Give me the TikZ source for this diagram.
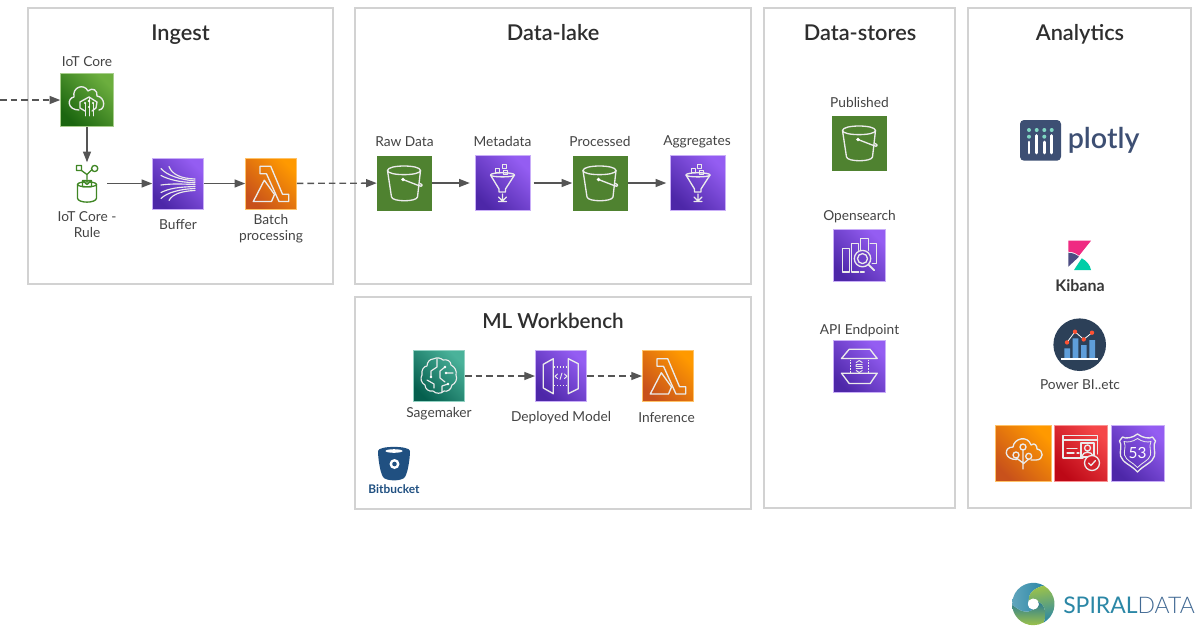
\documentclass[tikz,border=0pt]{standalone}
\usepackage{fontspec}
\setmainfont{Lato}
\newfontfamily\titlefont{Lato Semibold}
\newfontfamily\lightfont{Lato Light}
\usetikzlibrary{arrows.meta}
\definecolor{txt}{HTML}{444444}
\definecolor{flowc}{HTML}{555555}
\definecolor{panelc}{HTML}{D2D2D2}
\definecolor{bucketg}{HTML}{4F8230}
\definecolor{grnL}{HTML}{6CAE3E}\definecolor{grnD}{HTML}{1B660F}
\definecolor{purL}{HTML}{945DF2}\definecolor{purD}{HTML}{4D27A8}
\definecolor{orgL}{HTML}{FF9900}\definecolor{orgD}{HTML}{C8511B}
\definecolor{redL}{HTML}{F54749}\definecolor{redD}{HTML}{BD0816}
\definecolor{teaL}{HTML}{4AB29A}\definecolor{teaD}{HTML}{055F4E}
\definecolor{rulec}{HTML}{3F8624}
\definecolor{plotc}{HTML}{3D4F73}
\definecolor{plotd}{HTML}{7FD6C2}
\definecolor{bitc}{HTML}{205081}
\definecolor{pbid}{HTML}{2C4058}
\definecolor{spT}{HTML}{2B87A6}
\definecolor{spG}{HTML}{9CC24A}
\tikzset{
  panel/.style={draw=panelc,line width=1.1pt,fill=white},
  paneltitle/.style={font=\titlefont\fontsize{16.3}{18}\selectfont,text=black!82,inner sep=0pt,text height=12pt,text depth=1.5pt},
  lab/.style={font=\fontsize{10.3}{12}\selectfont,text=txt,inner sep=0pt,align=center,yshift=-.3pt},
  flow/.style={draw=flowc,line width=1pt,-{Triangle[length=8pt,width=6pt,fill=flowc]}},
  dflow/.style={flow,dash pattern=on 5pt off 3pt},
  icon/.style={inner sep=0pt,minimum size=#1*0.75pt},
  igrn/.style={icon=#1,top color=grnL,bottom color=grnD,shading angle=-45,draw=grnL!60!white,line width=.4pt},
  ipur/.style={icon=#1,top color=purL,bottom color=purD,shading angle=-45,draw=purL!50!white,line width=.4pt},
  iorg/.style={icon=#1,top color=orgL,bottom color=orgD,shading angle=-45,draw=orgL!60!white,line width=.4pt},
  ired/.style={icon=#1,top color=redL,bottom color=redD,shading angle=-45,draw=redL!60!white,line width=.4pt},
  itea/.style={icon=#1,top color=teaL,bottom color=teaD,shading angle=-45,draw=teaL!60!white,line width=.4pt},
  ibuc/.style={inner sep=0pt,minimum size=#1*0.75pt,fill=bucketg},
  gl/.style={draw=white!92!black,line width=1pt,line join=round,line cap=round},
  gldot/.style={gl,dash pattern=on 1pt off 1.2pt,line cap=butt},
}
\newcommand{\gBucket}[1]{\begin{scope}[shift={(#1.center)},gl]
  \draw (-17,-12.5) .. controls (-17,-18.5) and (16,-18.5) .. (16,-12.5) .. controls (16,-7) and (-17,-7) .. (-17,-12.5);
  \draw (-17,-12.5) -- (-13,14) .. controls (-12,19) and (12,19) .. (13,14) -- (16,-12.5);
  \draw (-1.5,-3.5) -- (14,2.5);
  \fill[white] (-1.5,-3.5) circle (1.8);
  \draw (14,2.5) .. controls (18,4.5) and (19,1.5) .. (15.5,0.5);
\end{scope}}
\newcommand{\gFunnel}[1]{\begin{scope}[shift={(#1.center)},gl]
  \draw (-12,-8) .. controls (-12,-11) and (12,-11) .. (12,-8) .. controls (12,-5.5) and (-12,-5.5) .. (-12,-8);
  \draw (-12,-8) -- (-3.5,6) -- (-3.5,9) -- (3,9) -- (3,6) -- (12,-8);
  \draw (0,11) -- (0,17) (-4,14) -- (0,18) -- (4,14) (-4,18.5) -- (4,18.5);
  \draw[line width=.7pt] (-7,-15) rectangle (-3,-11) (-.5,-19) rectangle (3.5,-15) (1,-12.5) rectangle (5,-8.5);
\end{scope}}
\newcommand{\gLambda}[1]{\begin{scope}[shift={(#1.center)},gl]
  \draw (-11,-17.3) -- (-.3,-17.3) -- (11.5,10.7) -- (17.7,10.7) -- (17.7,18) -- (8,18) -- (-4.5,-9.7) -- (-11,-9.7) -- cycle;
  \draw (-6.7,-3.3) -- (-17.7,18) -- (.5,18) -- (3.5,11) -- cycle;
\end{scope}}
\newcommand{\gBlade}[4]{\begin{scope}[rotate=#1]
  \shade[left color=#2,right color=#3,shading angle=#4] (90:5.5) .. controls (120:11) and (150:16) .. (180:21.2) arc[start angle=180,end angle=60,radius=21.2] .. controls (30:16) and (0:11) .. (-30:5.5) arc[start angle=-30,end angle=90,radius=5.5] -- cycle;
\end{scope}}
\begin{document}
\begin{tikzpicture}[x=0.75pt,y=-0.75pt]
\fill[white] (0,0) rectangle (1200,633);
\useasboundingbox (0,0) rectangle (1200,633);

% panels
\node[panel,minimum width=305*0.75pt,minimum height=276*0.75pt,inner sep=0pt] (pingest) at (180.5,146) {};
\node[panel,minimum width=396*0.75pt,minimum height=276*0.75pt,inner sep=0pt] (plake) at (553,146) {};
\node[panel,minimum width=396*0.75pt,minimum height=212*0.75pt,inner sep=0pt] (pml) at (553,403) {};
\node[panel,minimum width=191*0.75pt,minimum height=500*0.75pt,inner sep=0pt] (pstores) at (859.5,258) {};
\node[panel,minimum width=223*0.75pt,minimum height=500*0.75pt,inner sep=0pt] (pana) at (1079.5,258) {};
\node[paneltitle] (t1) at (180.5,33) {Ingest};
\node[paneltitle] (t2) at (553,33) {Data-lake};
\node[paneltitle,font=\titlefont\fontsize{15.5}{18}\selectfont] (t3) at (553,321) {ML Workbench};
\node[paneltitle] (t4) at (860,33) {Data-stores};
\node[paneltitle] (t5) at (1080,33) {Analytics};

% Ingest
\coordinate (src) at (0,100);
\node[igrn=53] (iot) at (87,100) {};
\node[inner sep=0pt,minimum width=40*0.75pt,minimum height=42*0.75pt] (rule) at (87,183.5) {};
\node[ipur=51] (buffer) at (178,183.5) {};
\node[iorg=51] (batch) at (271,183.5) {};
\node[lab] (liot) at (87,61) {IoT Core};
\node[lab] (lrule) at (87,224) {IoT Core -\\Rule};
\node[lab] (lbuf) at (178,224) {Buffer};
\node[lab] (lbatch) at (271,228) {Batch\\processing};

% iot glyph
\begin{scope}[shift={(iot.center)},gl]
  \draw (-8,10) .. controls (-20,10) and (-20,-2) .. (-13,-3) .. controls (-15,-13) and (-3,-17) .. (1,-9) .. controls (5,-13) and (11,-10) .. (10,-4) .. controls (18,-3) and (19,9) .. (12,10);
  \draw (2,-3) -- (10,2) -- (9,8) -- (5,11) (2,-3) -- (-7,2) -- (-7,8) -- (-2,11);
  \draw[line width=.7pt] (2,-3) -- (2,16) (-2,3) -- (-2,16) (6,3) -- (6,16);
  \fill[white] (2,1) circle (1.4) (-2,3) circle (1.2) (6,3) circle (1.2) (2,7) circle (1.2);
\end{scope}
% rule glyph
\begin{scope}[shift={(rule.center)},gl,draw=rulec]
  \draw (-9.5,1) -- (-9.5,14.5) .. controls (-9.5,20) and (9.5,20) .. (9.5,14.5) -- (9.5,1);
  \draw (-9.5,1) .. controls (-9.5,-2.5) and (9.5,-2.5) .. (9.5,1) .. controls (9.5,4) and (-9.5,4) .. (-9.5,1);
  \draw (-4.5,-3) rectangle (4.5,3.2) (-4.5,-3) -- (0,1) -- (4.5,-3);
  \draw (-10.5,-18) rectangle (-5.5,-13) (0,-4) -- (0,-9) -- (-5.5,-13) (0,-9) -- (5,-14);
  \draw (7.7,-15) circle (3.1);
\end{scope}
% buffer glyph
\begin{scope}[shift={(buffer.center)},gl,line width=.85pt]
  \draw (-9,-17) .. controls (-6,-9) and (3,-5) .. (17,-4.5);
  \draw (-17,-15) .. controls (-11,-8) and (2,-4) .. (17,-2.5);
  \draw (-17,-8) .. controls (-9,-4) and (0,-1.5) .. (17,-.7);
  \draw (-17,1.5) .. controls (-6,0) and (4,.5) .. (17,1);
  \draw (-17,9) .. controls (-9,5) and (0,3.5) .. (17,3);
  \draw (-17,15) .. controls (-11,9) and (2,5.5) .. (17,5);
  \draw (-9,17) .. controls (-6,11) and (3,7.5) .. (17,7);
\end{scope}
\gLambda{batch}

% Data-lake
\node[ibuc=55] (raw) at (404.5,183) {};
\node[ipur=55] (meta) at (502.5,183) {};
\node[ibuc=55] (proc) at (600,183) {};
\node[ipur=55] (aggr) at (698,183) {};
\gBucket{raw}\gBucket{proc}\gFunnel{meta}\gFunnel{aggr}
\node[lab] (lraw) at (404.5,141) {Raw Data};
\node[lab] (lmeta) at (502.5,141) {Metadata};
\node[lab] (lproc) at (600,141) {Processed};
\node[lab] (laggr) at (697,141) {Aggregates};

% ML
\node[itea=51.5] (sage) at (439,376) {};
\node[ipur=51.5] (model) at (561,376) {};
\node[iorg=51.5] (infer) at (668,376) {};
\node[lab] (lsage) at (439,413) {Sagemaker};
\node[lab] (lmodel) at (561,417) {Deployed Model};
\node[lab] (linfer) at (666.5,417) {Inference};
\gLambda{infer}
\begin{scope}[shift={(sage.center)},gl,line width=.85pt]
  \draw (-6,-17) .. controls (-2,-19) and (2,-18) .. (4,-16) .. controls (8,-17) and (12,-15) .. (12,-11) .. controls (16,-9) and (18,-5) .. (17,-1) .. controls (19,3) and (16,8) .. (13,9) .. controls (12,14) and (8,16) .. (5,15) .. controls (2,18) and (-3,18) .. (-6,15) .. controls (-10,16) and (-14,13) .. (-14,9) .. controls (-18,7) and (-19,2) .. (-17,-1) .. controls (-18,-6) and (-15,-10) .. (-12,-10) .. controls (-12,-14) and (-9,-17) .. (-6,-17);
  \draw (-2,-17) -- (-2,-9) -- (-8,-5) -- (-8,1) (6,-9) -- (1,-5) -- (1,2) -- (6,6) (-12,4) -- (-5,8) -- (-5,12) (3,16) -- (3,10) -- (9,8) (7,-3) -- (14,-3);
  \fill[white] (6,-9) circle (1.4) (7,-3) circle (1.4) (9,8) circle (1.4) (-8,1) circle (1.4);
\end{scope}
\begin{scope}[shift={(model.center)},gl]
  \draw (-17.7,-11.7) -- (-7.7,-17.3) -- (-7.7,17.7) -- (-17.7,12) -- cycle;
  \draw (7.3,-17.3) -- (17.3,-12.3) -- (17.3,12.7) -- (7.3,17.7) -- cycle;
  \draw[gldot] (-7,-9) -- (7,-9) (-7,9.3) -- (7,9.3);
  \draw[line width=.7pt] (-3.5,-2) -- (-6,.3) -- (-3.5,2.5) (3.5,-2) -- (6,.3) -- (3.5,2.5) (1,-3) -- (-1,3.5);
\end{scope}
\draw[dflow] (sage) -- (model);
\draw[dflow] (model) -- (infer);

% Bitbucket
\fill[bitc] (378,451) .. controls (378,445.5) and (410,445.5) .. (410,451) .. controls (410,458) and (408,472) .. (405,477) .. controls (402,481.5) and (386,481.5) .. (383,477) .. controls (380,472) and (378,458) .. (378,451) -- cycle;
\fill[white] (394,451) ellipse (8.5 and 1.8);
\fill[white] (394.5,464) circle (5);
\fill[bitc] (394.5,464) circle (2.3);
\node[font=\bfseries\fontsize{8.9}{11}\selectfont,text=bitc,inner sep=0pt] (lbit) at (394,489) {Bitbucket};

% Data-stores
\node[ibuc=55] (pub) at (859.5,143) {};
\node[ipur=52] (osearch) at (859.2,255.3) {};
\node[ipur=52] (api) at (859.2,366.5) {};
\gBucket{pub}
\node[lab] (lpub) at (859.5,102) {Published};
\node[lab] (los) at (859.5,216.5) {Opensearch};
\node[lab] (lapi) at (859.5,330) {API Endpoint};
\begin{scope}[shift={(osearch.center)},gl]
  \draw (-17,16.7) -- (-17,-7) -- (-9.5,-7) -- (-9.5,16.7) -- cycle;
  \draw (-7.5,16.7) -- (-7.5,-12) -- (-.5,-12) -- (-.5,-5) (-7.5,16.7) -- (-.5,16.7);
  \draw (1.3,-5) -- (1.3,-17) -- (9,-17) -- (9,-5) (1.3,16.7) -- (5,16.7);
  \draw (11,-12) -- (17,-12) -- (17,8) -- (13,8);
  \draw[fill=purD!55!purL] (3.3,3.3) circle (8.2);
  \draw (3.3,3.3) circle (5);
  \draw[line width=1.3pt] (9.5,9.5) -- (15,15);
\end{scope}
\begin{scope}[shift={(api.center)},gl]
  \draw (-10,-17.3) -- (10.7,-17.3) -- (18,-8) -- (-17.7,-8) -- cycle;
  \draw (-17.7,6.7) -- (18,6.7) -- (11,17) -- (-10,17) -- cycle;
  \draw[gldot] (-8.7,-7) -- (-8.7,6) (9,-7) -- (9,6);
  \draw[line width=.7pt] (-3,-4) -- (0,-6) -- (3,-4) (-3,4) -- (0,6) -- (3,4) (3,-2) -- (-3,-2) -- (-3,0) -- (3,0) -- (3,2) -- (-3,2);
\end{scope}

% Analytics: plotly
\fill[plotc,rounded corners=3pt] (1020,120) rectangle (1061,160.7);
\foreach \px/\py in {1029/130,1036.7/130,1044.3/130,1051.7/130,1029/136.7,1044.3/136.7}{\fill[plotd] (\px,\py) circle (2);}
\foreach \px/\py in {1029/142,1036.7/135.5,1044.3/142,1051.7/135.5}{\draw[white,line width=2pt,line cap=round] (\px,\py) -- (\px,153);}
\node[font=\titlefont\fontsize{21.5}{24}\selectfont,text=plotc,inner sep=0pt,anchor=west] (lplot) at (1067.5,140) {plotly};

% Kibana
\fill[magenta!75!red!85!white] (1068.3,240.7) -- (1091,240.7) -- (1079,255.7) .. controls (1076,253) and (1072,251.7) .. (1068.3,251.7) -- cycle;
\fill[black!70!blue!70] (1068.3,252.7) .. controls (1072,252.7) and (1076,254) .. (1079,256.7) -- (1068.3,266.7) -- cycle;
\fill[teal!45!cyan!85!green] (1074,270) -- (1081.7,258.3) .. controls (1087,261) and (1090,265) .. (1091,270) -- cycle;
\node[font=\bfseries\fontsize{12}{14}\selectfont,text=black!78,inner sep=0pt] (lkib) at (1080,286) {Kibana};

% Power BI
\node[circle,fill=pbid,inner sep=0pt,minimum size=52.6*0.75pt] (pbi) at (1079.7,344.7) {};
\begin{scope}[shift={(pbi.center)}]
  \fill[cyan!60!blue!65!white] (-15.3,3.7) rectangle (-9.7,13.7) (-7,-6.3) rectangle (-1.3,13.7) (1.3,0.3) rectangle (7,13.7) (9.7,-4.7) rectangle (15.3,13.7);
  \draw[white,line width=.9pt] (-18.7,14.3) -- (18.7,14.3);
  \draw[white,line width=.6pt] (-12.7,-2.3) -- (-4.7,-13) -- (4,-5.3) -- (12.3,-12);
  \fill[red!70!orange!80!white] (-12.7,-2.3) circle (2.2) (-4.7,-13) circle (2.2) (4,-5.3) circle (2.2) (12.3,-12) circle (2.2);
\end{scope}
\node[lab] (lpbi) at (1080,384) {Power BI..etc};

% Bottom icons
\node[iorg=56] (ana1) at (1023,453) {};
\node[ired=56,minimum width=53*0.75pt] (ana2) at (1081,453) {};
\node[ipur=56,minimum width=53*0.75pt] (ana3) at (1137.5,453) {};
\begin{scope}[shift={(ana1.center)},gl]
  \draw (-6,6.5) .. controls (-19,7) and (-20,-6) .. (-10,-6) .. controls (-9,-15) and (5,-18) .. (8,-8) .. controls (12,-11) and (14,-7) .. (14,-4) .. controls (21,-3) and (21,7) .. (13,7) -- (8,7);
  \draw (0,-3) -- (0,16) (-6.5,5) -- (0,10) (5.7,6) -- (0,11);
  \draw (0,-6) circle (3) (-7,2) circle (3) (5.7,3.3) circle (3);
\end{scope}
\begin{scope}[shift={(ana2.center)},gl]
  \draw (2,5) -- (-18,5) -- (-18,-17.7) -- (16.7,-17.7) -- (16.7,1);
  \draw (-18,-13) -- (16.7,-13);
  \draw (-14,-4.5) -- (-4,-4.5) (-14,0) -- (-7,0) (-4,0) -- (-2,0);
  \draw (0,-10) rectangle (13,4);
  \draw (6.5,-5) circle (3) (1,3) .. controls (2,-2) and (11,-2) .. (12,3);
  \draw[fill=redD!60!redL] (11,10) circle (7.5);
  \draw (7.5,10) -- (10,12.5) -- (14.5,7.5);
\end{scope}
\begin{scope}[shift={(ana3.center)},gl]
  \draw (0,-19) .. controls (-5,-15) and (-12,-14) .. (-15,-16) -- (-18,-12) .. controls (-15,-8) and (-18,-2) .. (-17,3) .. controls (-15,10) and (-6,12) .. (0,19) .. controls (6,12) and (15,10) .. (17,3) .. controls (18,-2) and (15,-8) .. (18,-12) -- (15,-16) .. controls (12,-14) and (5,-15) .. (0,-19);
  \draw[line width=.6pt] (0,-14.5) .. controls (-5,-11) and (-10,-10.5) .. (-13.5,-11.5) .. controls (-11,-6) and (-14,-2) .. (-13,2) .. controls (-11,8) and (-5,9) .. (0,14.5) .. controls (5,9) and (11,8) .. (13,2) .. controls (14,-2) and (11,-6) .. (13.5,-11.5) .. controls (10,-10.5) and (5,-11) .. (0,-14.5);
  \node[font=\fontsize{11.5}{12}\selectfont,text=white,inner sep=0pt] (l53) at (0,-.5) {53};
\end{scope}

% Spiral logo
\node[circle,inner sep=0pt,minimum size=42.4*0.75pt] (spiral) at (1033.3,604) {};
\begin{scope}[shift={(spiral.center)}]
  \gBlade{0}{spT!90!black}{spG}{0}
  \gBlade{-120}{spT!75!white}{spT}{90}
  \gBlade{120}{spG}{spT}{10}
  \fill[white] (0,0) circle (5.5);
\end{scope}
\node[font=\fontsize{17.2}{20}\selectfont,inner sep=0pt,anchor=west] (lspiral) at (1063,605) {\textcolor{spT}{SPIRAL}\textcolor{bitc!85!white}{\lightfont DATA}};

% connectors
\draw[dflow] (src) -- (iot);
\draw[flow] (iot) -- (rule);
\draw[flow] (rule) -- (buffer);
\draw[flow] (buffer) -- (batch);
\draw[dflow] (batch) -- (raw);
\draw[flow,shorten >=3.75pt] (raw) -- (meta);
\draw[flow,shorten <=2.5pt] (meta) -- (proc);
\draw[flow,shorten >=3pt] (proc) -- (aggr);
\end{tikzpicture}
\end{document}
